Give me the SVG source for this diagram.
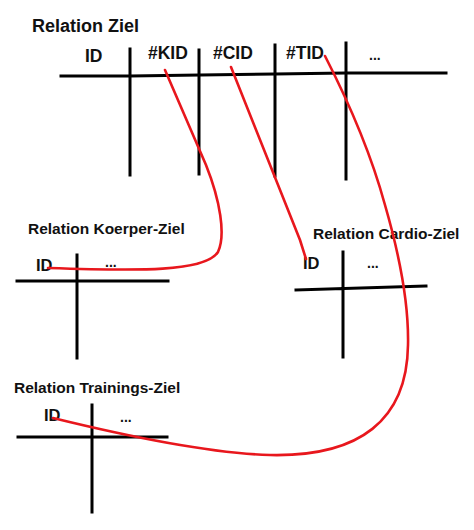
<svg xmlns="http://www.w3.org/2000/svg" width="474" height="530" viewBox="0 0 474 530">
<style>
text{font-family:"Liberation Sans",Arial,sans-serif;font-weight:bold;fill:#111}
.t{font-size:18px}.c{font-size:17.5px}.s{font-size:15.5px}.i{font-size:16.5px}.d{font-size:14px}
.b{stroke:#000;stroke-width:3;fill:none;stroke-linecap:square}
.r{stroke:#e8171d;stroke-width:2.6;fill:none;stroke-linecap:round;stroke-linejoin:round}
</style>
<rect width="474" height="530" fill="#fff"/>
<g id="relation-ziel">
<text class="t" x="32" y="32">Relation Ziel</text>
<path class="b" d="M61,76 L130,76 L200,75 L275,74 L346,73 L446,73"/>
<path class="b" d="M130,49 V175 M199,50 V174 M275,45 V176 M346,43 V179"/>
<text class="c" x="85" y="62">ID</text>
<text class="c" x="148" y="59">#KID</text>
<text class="c" x="213" y="59">#CID</text>
<text class="c" x="286" y="59">#TID</text>
<text class="d" x="369" y="60">...</text>
</g>
<g id="relation-koerper-ziel">
<text class="s" x="28" y="234">Relation Koerper-Ziel</text>
<path class="b" d="M17,281 H168 M77,255 V358"/>
<text class="i" x="36" y="271">ID</text>
<text class="d" x="105" y="267">...</text>
</g>
<g id="relation-cardio-ziel">
<text class="s" x="313" y="239">Relation Cardio-Ziel</text>
<path class="b" d="M296,290 L426,286 M343,252 V357"/>
<text class="i" x="303" y="269">ID</text>
<text class="d" x="367" y="268">...</text>
</g>
<g id="relation-trainings-ziel">
<text class="s" x="14" y="393">Relation Trainings-Ziel</text>
<path class="b" d="M18,437 H167 M92,405 V512"/>
<text class="i" x="44" y="421">ID</text>
<text class="d" x="120" y="422">...</text>
</g>
<g id="connectors">
<path class="r" d="M165,70 L206,165 C220,200 226,235 218,252 C205,272 140,271 48,268"/>
<path class="r" d="M231,67 L300,240 L306,259"/>
<path class="r" d="M325,56 C345,95 370,150 385,205 C398,250 409,300 408,345 C407,420 360,457 270,455 C200,453 110,432 53,418"/>
</g>
</svg>
